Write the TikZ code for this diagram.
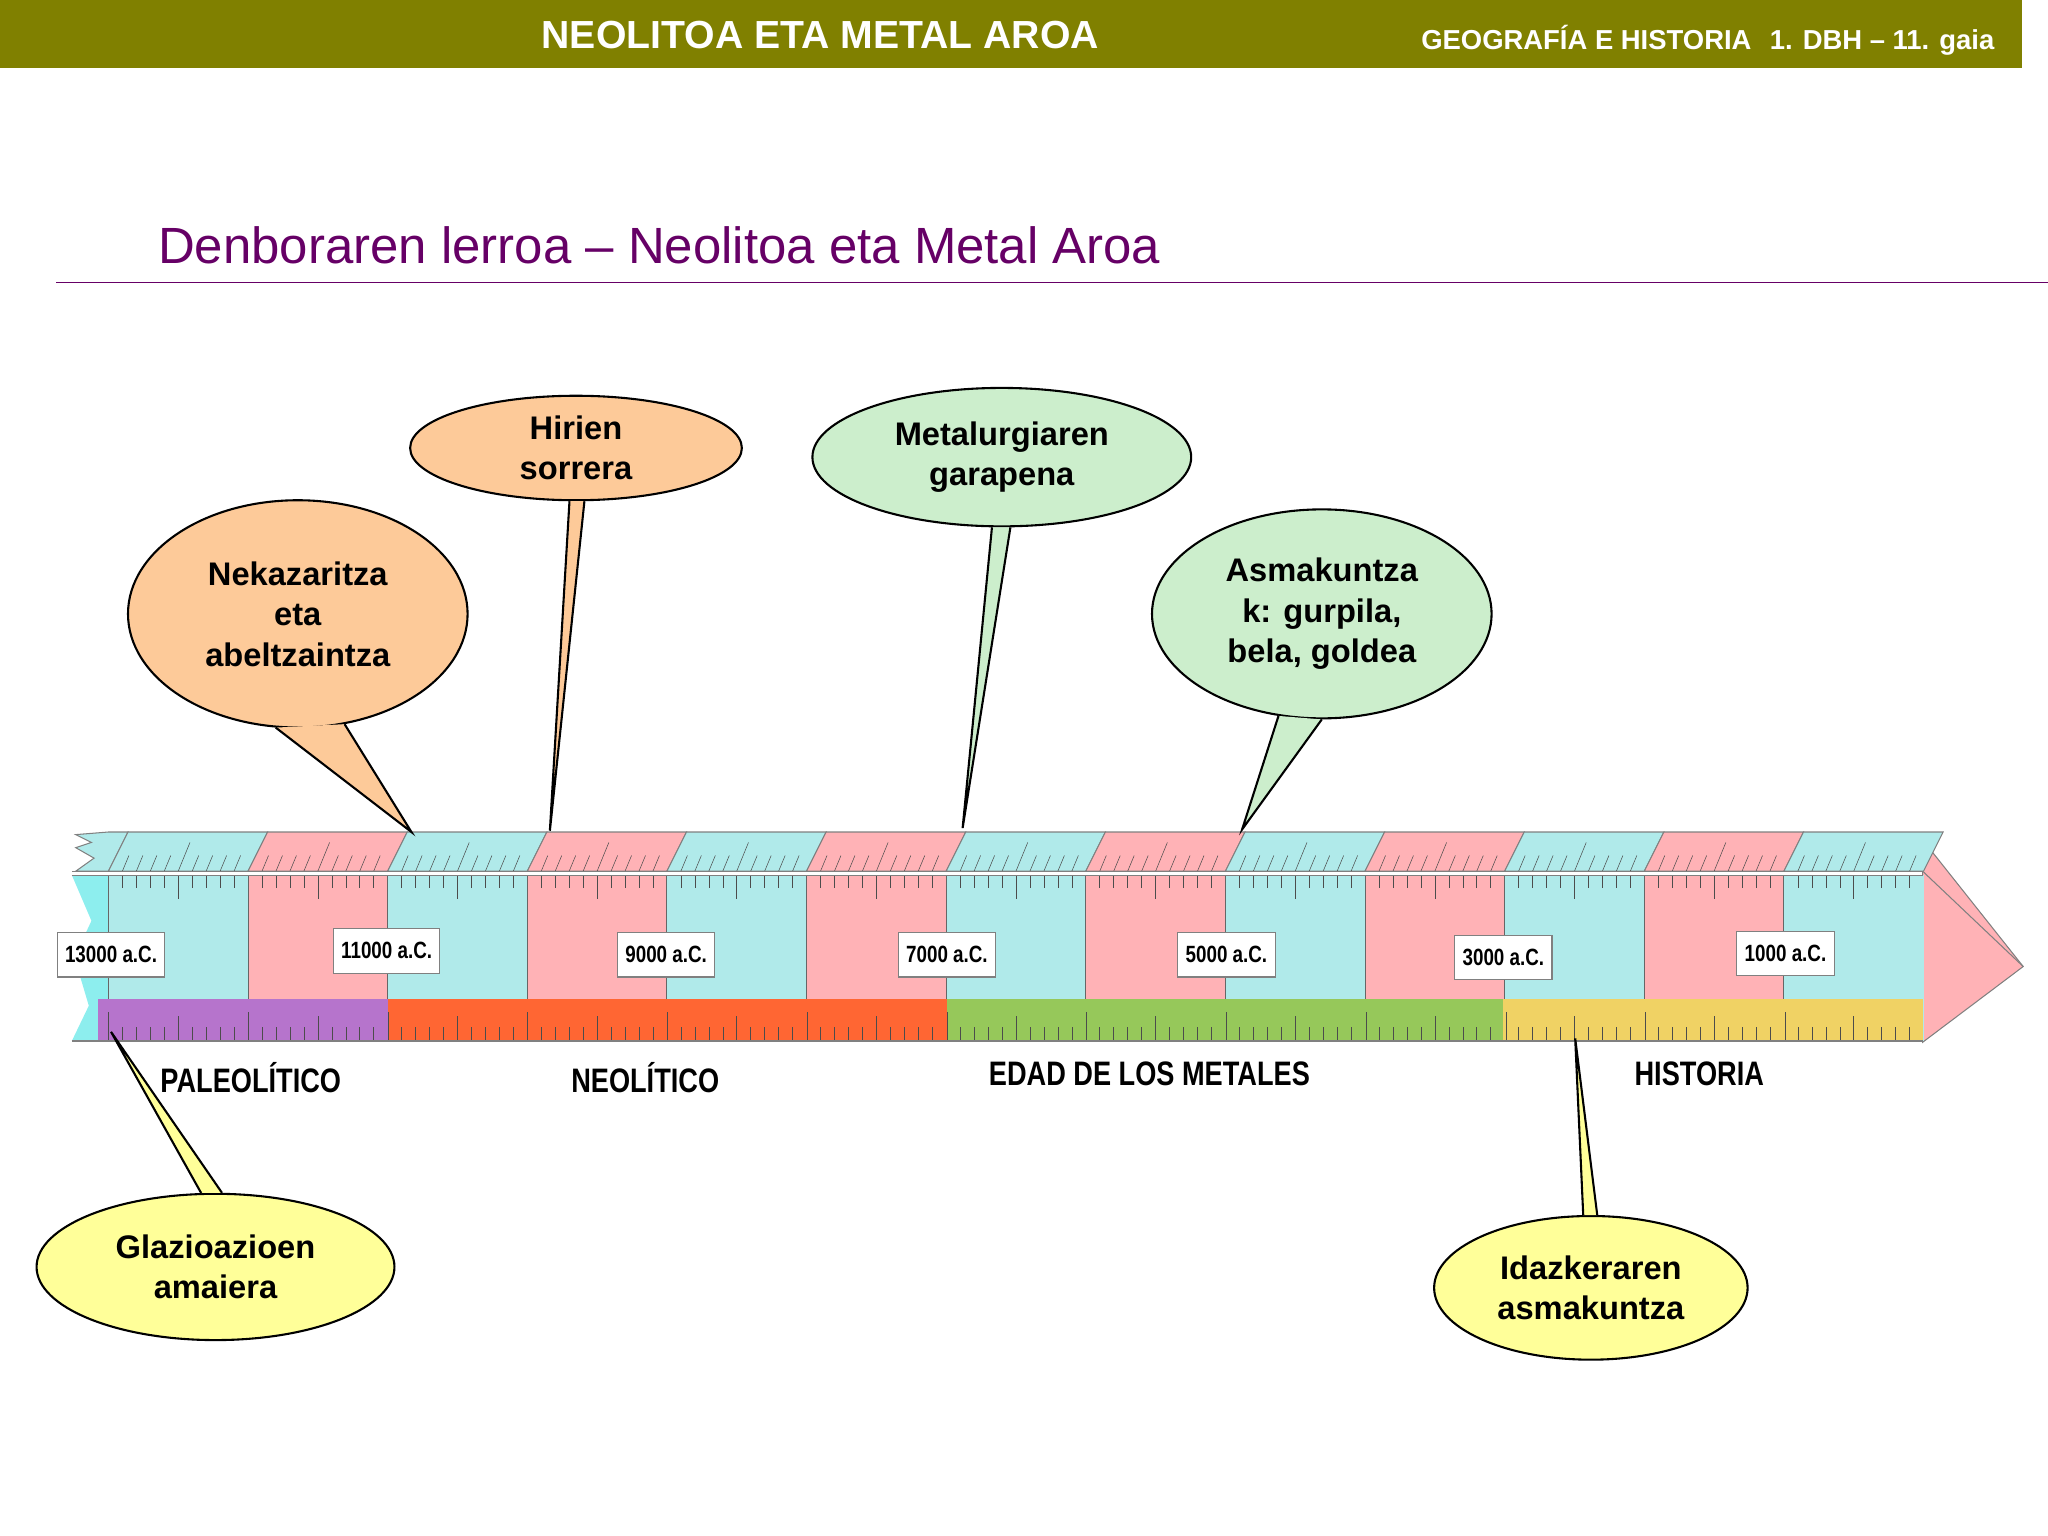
\documentclass[tikz,border=0pt]{standalone}
\usepackage{fontspec}
\setmainfont{Liberation Sans}
\newfontfamily\narrowfont{Liberation Sans}[FakeStretch=0.8]
\usetikzlibrary{shapes.geometric}
\definecolor{olive}{RGB}{128,128,0}
\definecolor{plum}{RGB}{102,0,102}
\definecolor{cyanseg}{RGB}{176,234,234}
\definecolor{pinkseg}{RGB}{255,178,182}
\definecolor{orangeb}{RGB}{253,202,153}
\definecolor{greenb}{RGB}{204,238,204}
\definecolor{yellowb}{RGB}{255,255,153}
\definecolor{eraviolet}{RGB}{182,116,204}
\definecolor{eraorange}{RGB}{255,102,51}
\definecolor{eragreen}{RGB}{150,200,90}
\definecolor{erayellow}{RGB}{240,210,100}
\tikzstyle{bubble} = [ellipse, draw, thick, inner sep=0, align=center, font=\fontsize{12.5}{15.5}\selectfont\bfseries]
\tikzstyle{date} = [rectangle, draw=gray, fill=white, inner sep=3pt, minimum height=17pt, font=\narrowfont\fontsize{9}{10}\selectfont\bfseries]
\tikzstyle{period} = [font=\narrowfont\fontsize{13}{15}\selectfont\bfseries]
\tikzstyle{tick} = [draw, very thin, black!70]
\begin{document}
\begin{tikzpicture}[x=0.5pt, y=-0.5pt]
\useasboundingbox (0,0) rectangle (1568,1176);

% header
\fill[olive] (0,0) rectangle (1548,52);
\node[text=white, font=\fontsize{15}{17}\selectfont\bfseries] (head) at (628,27) {NEOLITOA ETA METAL AROA};
\node[text=white, anchor=east, font=\fontsize{10.5}{12}\selectfont\bfseries] (subj) at (1534,31) {GEOGRAFÍA E HISTORIA\hspace{7pt}1. DBH -- 11. gaia};
\node[text=plum, anchor=west, font=\fontsize{19.5}{22}\selectfont] (title) at (114,188) {Denboraren lerroa -- Neolitoa eta Metal Aroa};
\draw[plum, thin] (43,216) -- (1568,216);

% left end and arrow head
\fill[cyanseg!80!cyan] (55,670) -- (83,670) -- (83,797) -- (55,797) -- (68,770) -- (57,733) -- (70,705) -- cycle;
\draw[gray, fill=cyanseg] (58,639) -- (83,637) -- (98,637) -- (83,667) -- (58,667) -- (72,657) -- (58,649) -- (70,645) -- cycle;
\draw[gray, fill=pinkseg] (1472,643) -- (1549,740) -- (1472,798) -- cycle;
\draw[gray] (1472,667) -- (1549,740);

% segments
\foreach \i in {0,...,12} {
  \pgfmathsetmacro{\xa}{83+106.9*\i}
  \pgfmathsetmacro{\xb}{\xa+106.9}
  \pgfmathtruncatemacro{\odd}{mod(\i,2)}
  \ifnum\odd=0 \def\segcol{cyanseg}\else\def\segcol{pinkseg}\fi
  \fill[\segcol] (\xa,670) rectangle (\xb,797);
  \draw[gray, fill=\segcol] (\xa,667) -- (\xa+15,637) -- (\xb+15,637) -- (\xb,667) -- cycle;
  \draw[gray!80!black] (\xa,670) -- (\xa,765);
  \foreach \k in {1,...,9} {
    \pgfmathsetmacro{\xt}{\xa+10.69*\k}
    \ifnum\k=5
      \draw[tick] (\xt,667) -- (\xt+9,645);
      \draw[tick] (\xt,670) -- (\xt,688);
      \draw[tick] (\xt,797) -- (\xt,778);
    \else
      \draw[tick] (\xt,667) -- (\xt+5,655);
      \draw[tick] (\xt,670) -- (\xt,680);
      \draw[tick] (\xt,797) -- (\xt,786);
    \fi
  }
}
\draw[gray] (55,667) -- (1472,667);
\draw[gray] (55,670) -- (1472,670);

% era bands
\fill[eraviolet] (75,765) rectangle (297,797);
\fill[eraorange] (297,765) rectangle (725,797);
\fill[eragreen] (725,765) rectangle (1151,797);
\fill[erayellow] (1151,765) rectangle (1472,797);
\foreach \x in {83,190,...,1472} \draw[tick] (\x,797) -- (\x,775);
\foreach \i in {0,...,12} {
  \foreach \k in {1,...,9} {
    \pgfmathsetmacro{\xt}{83+106.9*\i+10.69*\k}
    \ifnum\k=5 \draw[tick] (\xt,797) -- (\xt,778); \else \draw[tick] (\xt,797) -- (\xt,786); \fi
  }
}
\draw[gray] (55,797) -- (1472,797);

% dates
\node[date] (d13) at (85,731) {13000 a.C.};
\node[date] (d11) at (296,728) {11000 a.C.};
\node[date] (d9) at (510,731) {9000 a.C.};
\node[date] (d7) at (725,731) {7000 a.C.};
\node[date] (d5) at (939,731) {5000 a.C.};
\node[date] (d3) at (1151,733) {3000 a.C.};
\node[date] (d1) at (1367,730) {1000 a.C.};

% periods
\node[period] (paleo) at (192,825) {PALEOLÍTICO};
\node[period] (neo) at (494,825) {NEOLÍTICO};
\node[period] (metal) at (880,822) {EDAD DE LOS METALES};
\node[period] (hist) at (1301,822) {HISTORIA};

% bubbles
\node[bubble, fill=orangeb, minimum width=130pt, minimum height=87pt] (nek) at (228,470) {Nekazaritza\\eta\\abeltzaintza};
\node[bubble, fill=orangeb, minimum width=127pt, minimum height=40pt] (hir) at (441,343) {Hirien\\sorrera};
\node[bubble, fill=greenb, minimum width=145pt, minimum height=53pt] (met) at (767,350) {Metalurgiaren\\garapena};
\node[bubble, fill=greenb, minimum width=130pt, minimum height=80pt] (asm) at (1012,470) {Asmakuntza\\k: gurpila,\\bela, goldea};
\node[bubble, fill=yellowb, minimum width=137pt, minimum height=56pt] (gla) at (165,970) {Glazioazioen\\amaiera};
\node[bubble, fill=yellowb, minimum width=120pt, minimum height=55pt] (ida) at (1218,986) {Idazkeraren\\asmakuntza};

% tails
\coordinate (tnek) at (315,637);
\coordinate (thir) at (421,636);
\coordinate (tmet) at (737,634);
\coordinate (tasm) at (951,635);
\coordinate (tgla) at (85,790);
\coordinate (tida) at (1206,795);
\fill[orangeb] (nek.259) -- (tnek) -- (nek.293) -- cycle;
\draw[thick] (nek.259) -- (tnek) -- (nek.293);
\fill[orangeb] (hir.263) -- (thir) -- (hir.279) -- cycle;
\draw[thick] (hir.263) -- (thir) -- (hir.279);
\fill[greenb] (met.262) -- (tmet) -- (met.277) -- cycle;
\draw[thick] (met.262) -- (tmet) -- (met.277);
\fill[greenb] (asm.247) -- (tasm) -- (asm.270) -- cycle;
\draw[thick] (asm.247) -- (tasm) -- (asm.270);
\fill[yellowb] (gla.101) -- (tgla) -- (gla.85) -- cycle;
\draw[thick] (gla.101) -- (tgla) -- (gla.85);
\fill[yellowb] (ida.96) -- (tida) -- (ida.85) -- cycle;
\draw[thick] (ida.96) -- (tida) -- (ida.85);
\end{tikzpicture}
\end{document}
